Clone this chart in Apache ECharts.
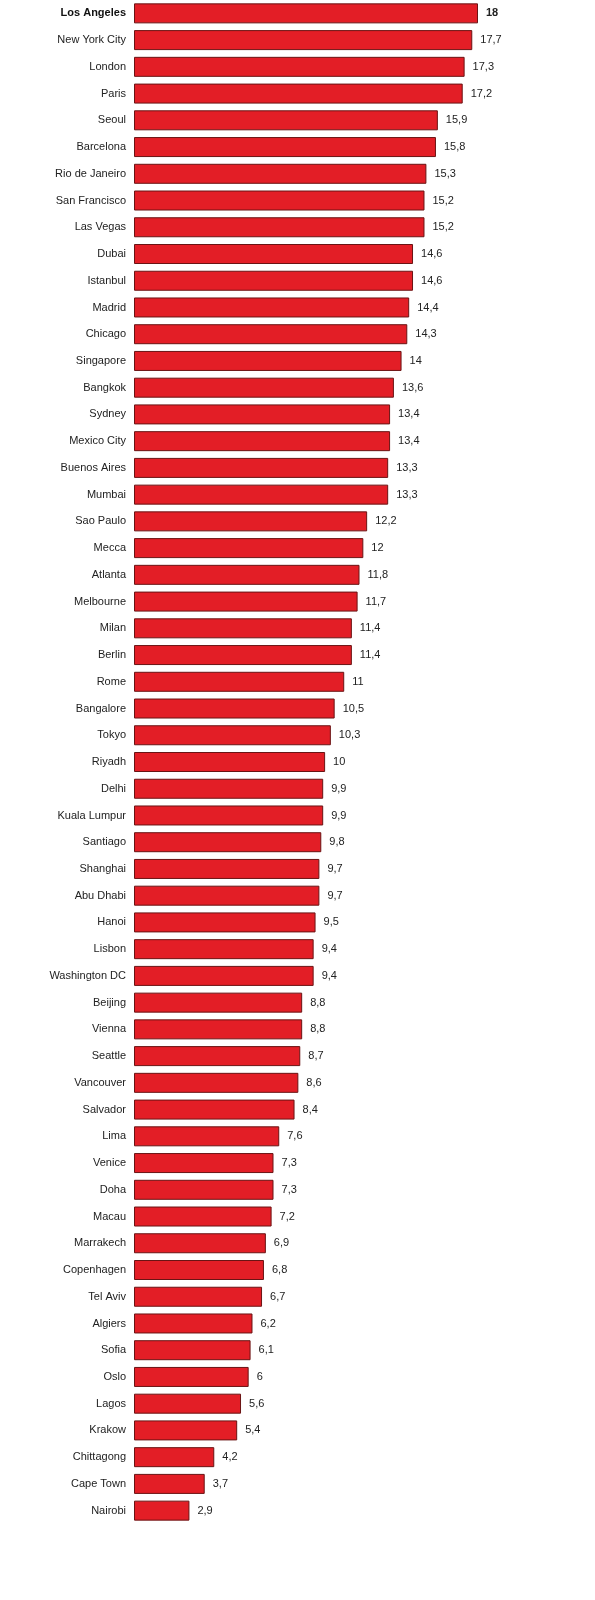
<!DOCTYPE html>
<html><head><meta charset="utf-8">
<script src="https://cdn.jsdelivr.net/npm/echarts@6/dist/echarts.min.js"></script>
<style>body{margin:0;background:#fff}#c{width:595px;height:1600px}</style>
</head><body><div id="c"></div>
<script>
const cities = ["Los Angeles","New York City","London","Paris","Seoul","Barcelona","Rio de Janeiro","San Francisco","Las Vegas","Dubai","Istanbul","Madrid","Chicago","Singapore","Bangkok","Sydney","Mexico City","Buenos Aires","Mumbai","Sao Paulo","Mecca","Atlanta","Melbourne","Milan","Berlin","Rome","Bangalore","Tokyo","Riyadh","Delhi","Kuala Lumpur","Santiago","Shanghai","Abu Dhabi","Hanoi","Lisbon","Washington DC","Beijing","Vienna","Seattle","Vancouver","Salvador","Lima","Venice","Doha","Macau","Marrakech","Copenhagen","Tel Aviv","Algiers","Sofia","Oslo","Lagos","Krakow","Chittagong","Cape Town","Nairobi"];
const values = [18,17.7,17.3,17.2,15.9,15.8,15.3,15.2,15.2,14.6,14.6,14.4,14.3,14,13.6,13.4,13.4,13.3,13.3,12.2,12,11.8,11.7,11.4,11.4,11,10.5,10.3,10,9.9,9.9,9.8,9.7,9.7,9.5,9.4,9.4,8.8,8.8,8.7,8.6,8.4,7.6,7.3,7.3,7.2,6.9,6.8,6.7,6.2,6.1,6,5.6,5.4,4.2,3.7,2.9];
const chart = echarts.init(document.getElementById('c'));
const data = values.map((v,i)=> i===0 ? {value:v,label:{fontWeight:'bold'}} : v);
chart.setOption({
  animation:false,
  grid:{left:134,width:344,top:-2,height:1526},
  xAxis:{type:'value',min:0,max:18,show:false},
  yAxis:{type:'category',data:cities,inverse:true,axisLine:{show:false},axisTick:{show:false},
    axisLabel:{margin:8,fontFamily:'Liberation Sans, Arial',fontSize:11,color:'#222',
      formatter:(v,i)=> i===0 ? '{b|'+v+'}' : v, rich:{b:{fontWeight:'bold',fontSize:11,color:'#111',fontFamily:'Liberation Sans, Arial'}}}},
  series:[{type:'bar',data:data,barWidth:20,
    itemStyle:{color:'#e31e26',borderColor:'#6a1414',borderWidth:1},
    label:{show:true,position:'right',distance:8,fontFamily:'Liberation Sans, Arial',fontSize:11,color:'#222',
      formatter:p=>String(p.value).replace('.',',')}}]
});
</script></body></html>
